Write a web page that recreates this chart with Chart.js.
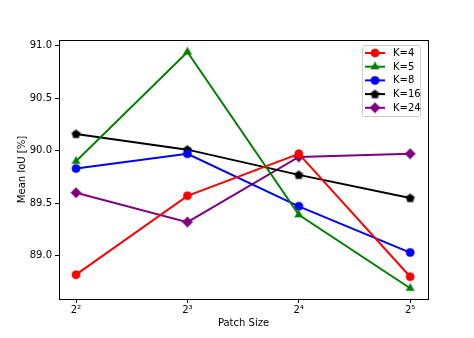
<!DOCTYPE html>
<html>
<head>
<meta charset="utf-8">
<script src="https://cdn.jsdelivr.net/npm/chart.js@4/dist/chart.umd.min.js"></script>
<style>
  html, body { margin: 0; padding: 0; background: #fff; }
  #wrap { width: 474px; height: 338px; }
</style>
</head>
<body>
<div id="wrap"><canvas id="iouChart"></canvas></div>
<script>
// Patch sizes as powers of two (exponents) and their tick labels
const patchExp = [2, 3, 4, 5];
const patchLabels = ['2\u00B2', '2\u00B3', '2\u2074', '2\u2075'];
const yTicks = [89.0, 89.5, 90.0, 90.5, 91.0];

const seriesNames = ['K=4', 'K=5', 'K=8', 'K=16', 'K=24'];
const k4 = [88.82, 89.57, 89.97, 88.80];
const k5 = [89.90, 90.94, 89.39, 88.69];
const k8 = [89.83, 89.97, 89.47, 89.03];
const k16 = [90.16, 90.01, 89.77, 89.55];
const k24 = [89.60, 89.32, 89.94, 89.97];

const FONT = 'DejaVu Sans';

// pentagon marker for the K=16 line
function pentagon(color, edge) {
  const c = document.createElement('canvas');
  c.width = 11; c.height = 11;
  const g = c.getContext('2d');
  g.beginPath();
  for (let i = 0; i < 5; i++) {
    const a = -Math.PI / 2 + i * 2 * Math.PI / 5;
    const px = 5.5 + 4.3 * Math.cos(a), py = 5.8 + 4.3 * Math.sin(a);
    if (i === 0) g.moveTo(px, py); else g.lineTo(px, py);
  }
  g.closePath();
  g.fillStyle = color;
  g.fill();
  g.lineWidth = 1.5;
  g.strokeStyle = edge;
  g.stroke();
  return c;
}

const styles = [
  { color: '#ff0000', edge: 'rgba(255,0,0,0.45)', point: 'circle', radius: 4 },
  { color: '#008000', edge: 'rgba(0,128,0,0.45)', point: 'triangle', radius: 4.5 },
  { color: '#0000ff', edge: 'rgba(0,0,255,0.45)', point: 'circle', radius: 4 },
  { color: '#000000', edge: 'rgba(0,0,0,0.45)', point: pentagon('#000', 'rgba(0,0,0,0.45)'), radius: 4 },
  { color: '#800080', edge: 'rgba(128,0,128,0.45)', point: 'rectRot', radius: 5 }
];

const values = [k4, k5, k8, k16, k24];

const datasets = values.map((vals, i) => ({
  label: seriesNames[i],
  data: vals.map((v, j) => ({ x: patchExp[j], y: v })),
  borderColor: styles[i].color,
  backgroundColor: styles[i].color,
  borderWidth: 2,
  pointStyle: styles[i].point,
  pointRadius: styles[i].radius,
  pointBackgroundColor: styles[i].color,
  pointBorderColor: styles[i].edge,
  pointBorderWidth: 1.5,
  tension: 0
}));

// frame around the plot area
const frame = {
  id: 'frame',
  afterDatasetsDraw(chart) {
    const { ctx, chartArea: a } = chart;
    ctx.save();
    ctx.strokeStyle = '#000';
    ctx.lineWidth = 1;
    ctx.strokeRect(a.left + 0.5, a.top + 0.5, a.right - a.left, a.bottom - a.top);
    ctx.restore();
  }
};

// legend box in upper right of the plot area
const boxLegend = {
  id: 'boxLegend',
  afterDraw(chart) {
    const ctx = chart.ctx;
    const x0 = 362, y0 = 45, w = 58, h = 71;
    ctx.save();
    ctx.fillStyle = 'rgba(255,255,255,0.8)';
    ctx.strokeStyle = '#cccccc';
    ctx.lineWidth = 1;
    ctx.beginPath();
    ctx.roundRect(x0 + 0.5, y0 + 0.5, w, h, 2);
    ctx.fill();
    ctx.stroke();
    chart.data.datasets.forEach((ds, i) => {
      const y = y0 + 8 + i * 13.7;
      ctx.strokeStyle = ds.borderColor;
      ctx.lineWidth = 2;
      ctx.beginPath();
      ctx.moveTo(x0 + 3, y);
      ctx.lineTo(x0 + 23, y);
      ctx.stroke();
      ctx.fillStyle = ds.pointBackgroundColor;
      ctx.strokeStyle = ds.pointBorderColor;
      ctx.lineWidth = 1.5;
      Chart.helpers.drawPoint(ctx, {
        pointStyle: ds.pointStyle, radius: ds.pointRadius, rotation: 0, borderWidth: 1.5
      }, x0 + 13, y);
      ctx.fillStyle = '#000';
      ctx.font = '10px ' + FONT;
      ctx.textBaseline = 'middle';
      ctx.fillText(ds.label, x0 + 31, y + 0.5);
    });
    ctx.restore();
  }
};

new Chart(document.getElementById('iouChart'), {
  type: 'line',
  data: { datasets },
  plugins: [frame, boxLegend],
  options: {
    responsive: true,
    maintainAspectRatio: false,
    animation: false,
    layout: { padding: { left: 0, right: 46, top: 40, bottom: 0 } },
    plugins: {
      legend: { display: false },
      tooltip: { enabled: false }
    },
    scales: {
      x: {
        type: 'linear',
        min: 1.847,
        max: 5.16,
        afterBuildTicks: s => { s.ticks = patchExp.map(v => ({ value: v })); },
        afterFit: s => { s.height = 39; },
        grid: { display: true, drawOnChartArea: false, tickLength: 4, color: '#000' },
        border: { display: false },
        ticks: {
          color: '#000',
          font: { family: FONT, size: 10 },
          padding: 1,
          maxRotation: 0,
          callback: v => patchLabels[patchExp.indexOf(v)]
        },
        title: {
          display: true,
          text: 'Patch Size',
          color: '#000',
          font: { family: FONT, size: 10 },
          padding: { top: 0, bottom: 9 }
        }
      },
      y: {
        min: 88.588,
        max: 91.054,
        afterBuildTicks: s => { s.ticks = yTicks.map(v => ({ value: v })); },
        afterFit: s => { s.width = 59; },
        grid: { display: true, drawOnChartArea: false, tickLength: 4, color: '#000' },
        border: { display: false },
        ticks: {
          color: '#000',
          font: { family: FONT, size: 10 },
          padding: 3,
          callback: v => v.toFixed(1)
        },
        title: {
          display: true,
          text: 'Mean IoU [%]',
          color: '#000',
          font: { family: FONT, size: 10 },
          padding: { top: 16, bottom: 0 }
        }
      }
    }
  }
});
</script>
</body>
</html>
